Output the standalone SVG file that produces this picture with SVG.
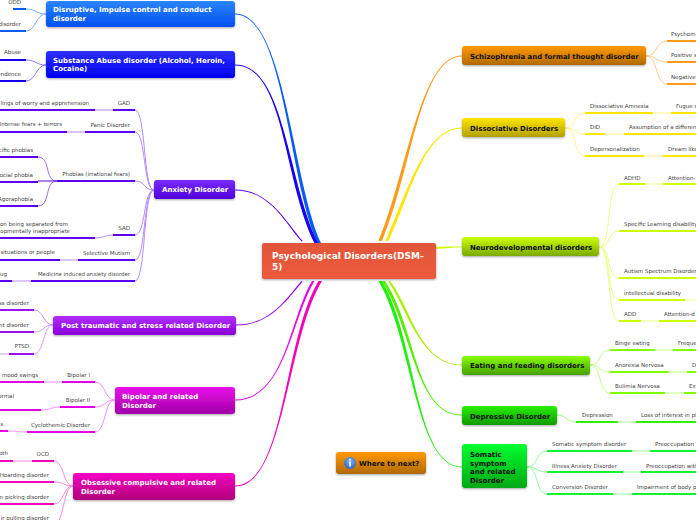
<svg xmlns="http://www.w3.org/2000/svg" width="696" height="520" viewBox="0 0 696 520">
<defs>
<style>
text{font-family:"DejaVu Sans",Verdana,sans-serif}
.t{font-size:5.5px;fill:#444}
.e{text-anchor:end}
.n{font-size:7px;font-weight:bold;fill:#fff}
.k{font-size:7px;font-weight:bold;fill:#111}
.b{filter:url(#sh)}
.c path,.l{fill:none}
.u{stroke-width:2;fill:none}
.blue{stroke:#0a5cf0}.ind{stroke:#1800f5}.vio{stroke:#5b00f0}.pur{stroke:#9a10f0}.mag{stroke:#e600e6}.pnk{stroke:#f500bb}
.org{stroke:#ff9a1a}.yel{stroke:#ffe600}.lim{stroke:#ccff00}.grn{stroke:#80ff00}.gr2{stroke:#33f000}.gr3{stroke:#10f530}
.lblue{stroke:#7fb0ff}.lind{stroke:#8d80ff}.lvio{stroke:#b48cff}.mvio{stroke:#9a66ff}.lpur{stroke:#d09cff}.lmag{stroke:#ff8cff}.lpnk{stroke:#ff88e0}
.lorg{stroke:#ffcc88}.lyel{stroke:#fff18a}.llim{stroke:#e9ff88}.lgrn{stroke:#c0ff88}.lgr2{stroke:#a0ff88}.lgr3{stroke:#90ff9c}
</style>
<filter id="sh" x="-5%" y="-10%" width="110%" height="130%"><feDropShadow dx="0" dy="1" stdDeviation="0.8" flood-color="#000" flood-opacity="0.35"/></filter>
<linearGradient id="g1" x1="0" y1="0" x2="0" y2="1"><stop offset="0" stop-color="#2b85ff"/><stop offset="1" stop-color="#0050f0"/></linearGradient>
<linearGradient id="g2" x1="0" y1="0" x2="0" y2="1"><stop offset="0" stop-color="#2f2fff"/><stop offset="1" stop-color="#0000f0"/></linearGradient>
<linearGradient id="g3" x1="0" y1="0" x2="0" y2="1"><stop offset="0" stop-color="#7a2bff"/><stop offset="1" stop-color="#5000d8"/></linearGradient>
<linearGradient id="g4" x1="0" y1="0" x2="0" y2="1"><stop offset="0" stop-color="#b030ff"/><stop offset="1" stop-color="#8a00d8"/></linearGradient>
<linearGradient id="g5" x1="0" y1="0" x2="0" y2="1"><stop offset="0" stop-color="#ea10ea"/><stop offset="1" stop-color="#a000a8"/></linearGradient>
<linearGradient id="g6" x1="0" y1="0" x2="0" y2="1"><stop offset="0" stop-color="#f500c5"/><stop offset="1" stop-color="#b00078"/></linearGradient>
<linearGradient id="g7" x1="0" y1="0" x2="0" y2="1"><stop offset="0" stop-color="#ff9a00"/><stop offset="1" stop-color="#b06a00"/></linearGradient>
<linearGradient id="g8" x1="0" y1="0" x2="0" y2="1"><stop offset="0" stop-color="#ffe600"/><stop offset="1" stop-color="#b3a000"/></linearGradient>
<linearGradient id="g9" x1="0" y1="0" x2="0" y2="1"><stop offset="0" stop-color="#ccff00"/><stop offset="1" stop-color="#7aaa00"/></linearGradient>
<linearGradient id="g10" x1="0" y1="0" x2="0" y2="1"><stop offset="0" stop-color="#88ff00"/><stop offset="1" stop-color="#44a000"/></linearGradient>
<linearGradient id="g11" x1="0" y1="0" x2="0" y2="1"><stop offset="0" stop-color="#2af000"/><stop offset="1" stop-color="#109a00"/></linearGradient>
<linearGradient id="g12" x1="0" y1="0" x2="0" y2="1"><stop offset="0" stop-color="#00ff30"/><stop offset="1" stop-color="#00a814"/></linearGradient>
<linearGradient id="g13" x1="0" y1="0" x2="0" y2="1"><stop offset="0" stop-color="#e0573a"/><stop offset="1" stop-color="#ee5a3c"/></linearGradient>
<linearGradient id="g14" x1="0" y1="0" x2="0" y2="1"><stop offset="0" stop-color="#ff9a00"/><stop offset="1" stop-color="#b06a00"/></linearGradient>
<radialGradient id="gi" cx="0.5" cy="0.35" r="0.7"><stop offset="0" stop-color="#7fb0f0"/><stop offset="1" stop-color="#2860c8"/></radialGradient>
</defs>
<rect width="696" height="520" fill="#fff"/>
<g id="connectors">
<g>
<path d="M235 13.500C285 13.500 292 180 321 243L317.500 243C288 180 285 14.500 235 14.500Z" fill="#0a5cf0"/>
<path d="M235 64.500C285 64.500 287 180 318 243L314.500 243C283 180 285 65.500 235 65.500Z" fill="#1800f5"/>
<path d="M235 189.600C270 189.600 286 222 302.800 241L301.600 241.500C285 223 270 190.400 235 190.400Z" fill="#5b00f0"/>
<path d="M236 324.600C270 324.600 285 300 301.400 281L302.800 281.500C286 301 270 325.400 236 325.400Z" fill="#9a10f0"/>
<path d="M235 399.500C285 399.500 289 320 312 281L314.500 281C291 320 285 400.500 235 400.500Z" fill="#e600e6"/>
<path d="M235 485.500C285 485.500 283 340 318.500 281L322 281C286 340 285 486.500 235 486.500Z" fill="#f500bb"/>
<path d="M462 55.500C420 55.500 408 170 378.500 241L382 241C412 170 420 56.500 462 56.500Z" fill="#ff9a1a"/>
<path d="M462 127.500C425 127.500 408 190 385.500 241L388.500 241C412 190 425 128.500 462 128.500Z" fill="#ffe600"/>
<path d="M436 247C445 246.500 452 246.600 462 246.600L462 247.400C452 247.400 445 248 436 249Z" fill="#ccff00"/>
<path d="M462 364.600C420 364.600 412 310 390 281L388 281C408 310 420 365.400 462 365.400Z" fill="#a8f000"/>
<path d="M462 414.600C415 414.600 417 330 385 281L382 281C413 330 415 415.400 462 415.400Z" fill="#55ee00"/>
<path d="M462 466.600C415 466.600 417 340 382 281L378.500 281C413 340 415 467.400 462 467.400Z" fill="#22ee10"/>
</g>
<g stroke-width="1" fill="none">
<path class="lblue" d="M26 9C36 9 36 14 46 14M26 31C36 31 36 14 46 14"/>
<path class="lind" d="M26 60C36 60 36 65 46 65M26 81C36 81 36 65 46 65"/>
<path class="lvio" d="M135 110C146 110 143 190 154 190M135 132C146 132 143 190 154 190M135 181C146 181 143 190 154 190M135 235C146 235 143 190 154 190M135 260C146 260 143 190 154 190M135 281C146 281 143 190 154 190"/>
<path class="lvio" d="M95 110H113M67 132H85M95 238C104 238 104 235 113 235M60 260H78M12 281C22 281 21 281 31 281"/>
<path class="mvio" d="M38 157C51 157 44 181 57 181M38 206C51 206 44 181 57 181"/>
<path class="vio" d="M38 181H57"/>
<path class="lpur" d="M34 310C44 310 43 325 53 325M34 332C44 332 43 325 53 325M34 354C44 354 43 325 53 325M0 354H9"/>
<path class="lmag" d="M95 382C106 382 104 400 115 400M95 407C106 407 104 400 115 400M95 432C106 432 104 400 115 400M44 382H62M41 410C50 410 51 407 60 407M8 431C17 431 18 432 27 432"/>
<path class="lpnk" d="M54 461C64 461 63 486 73 486M54 482C64 482 63 486 73 486M54 504C64 504 63 486 73 486M54 525C64 525 63 486 73 486M13 461H32"/>
<path class="lorg" d="M646 56C658 56 655 41 667 41M646 56C658 56 655 62 667 62M646 56C658 56 655 84 667 84"/>
<path class="lyel" d="M565 128C577 128 573 113 585 113M565 128C577 128 573 134 585 134M565 128C577 128 573 156 585 156M653 113H671M605 134H624M644 156H663"/>
<path class="llim" d="M599 247C612 247 606 184 619 184M599 247C612 247 606 231 619 231M599 247C612 247 606 278 619 278M599 247C612 247 606 300 619 300M599 247C612 247 606 321 619 321M645 184H663M685 300H696M641 321H659"/>
<path class="lgrn" d="M590 365C602 365 598 350 610 350M590 365C602 365 598 372 610 372M590 365C602 365 598 393 610 393M655 350H673M669 372H687M665 393H684"/>
<path class="lgr2" d="M557 415C567 415 566 422 576 422M618 422H636"/>
<path class="lgr3" d="M527 467C539 467 535 451 547 451M527 467C539 467 535 472 547 472M527 467C539 467 535 494 547 494M632 451H650M623 472H641M613 494H632"/>
</g>
</g>
<g id="center"><rect class="b" x="262" y="243" width="174" height="36" rx="2" fill="url(#g13)"/><text x="272" y="259" class="n" style="font-size:9px">Psychological Disorders(DSM-</text><text x="272" y="270" class="n" style="font-size:9px">5)</text></g>
<g id="next"><rect class="b" x="336" y="452" width="90" height="22" rx="3" fill="url(#g14)"/><circle cx="350" cy="463" r="6" fill="url(#gi)"/><circle cx="350" cy="459.800" r="1" fill="#fff"/><rect x="349.200" y="461.500" width="1.600" height="5" fill="#fff"/><text x="359" y="466" class="k">Where to next?</text></g>

<g id="disruptive"><rect class="b" x="46" y="1" width="189" height="26" rx="3" fill="url(#g1)"/><text x="53" y="12" class="n">Disruptive, Impulse control and conduct</text><text x="53" y="21" class="n">disorder</text>
<text x="21" y="4" class="t e">ODD</text><path class="u blue" d="M13 9H26"/><text x="21" y="26" class="t e">disorder</text><path class="u blue" d="M0 31H26"/></g>
<g id="substance"><rect class="b" x="46" y="51" width="189" height="27" rx="3" fill="url(#g2)"/><text x="53" y="63" class="n">Substance Abuse disorder (Alcohol, Heroin,</text><text x="53" y="71" class="n">Cocaine)</text>
<text x="21" y="54" class="t e">Abuse</text><path class="u ind" d="M0 60H26"/><text x="21" y="76" class="t e">endence</text><path class="u ind" d="M0 81H26"/></g>
<g id="anxiety"><rect class="b" x="154" y="180" width="81" height="19" rx="3" fill="url(#g3)"/><text x="162" y="192" class="n">Anxiety Disorder</text>
<text x="130" y="105" class="t e">GAD</text><path class="u vio" d="M113 110H135"/><text x="89" y="105" class="t e">lings of worry and apprehension</text><path class="u vio" d="M0 110H95"/>
<text x="130" y="127" class="t e">Panic Disorder</text><path class="u vio" d="M85 132H135"/><text x="62" y="126" class="t e">Intense fears + terrors</text><path class="u vio" d="M0 132H67"/>
<text x="130" y="176" class="t e">Phobias (irrational fears)</text><path class="u vio" d="M57 181H135"/>
<text x="33" y="152" class="t e">cific phobias</text><path class="u vio" d="M0 157H38"/><text x="33" y="177" class="t e">social phobia</text><path class="u vio" d="M0 182H38"/><text x="33" y="201" class="t e">Agoraphobia</text><path class="u vio" d="M0 206H38"/>
<text x="130" y="230" class="t e">SAD</text><path class="u vio" d="M113 235H135"/><text x="68" y="226" class="t e">on being separated from</text><text x="70" y="233" class="t e">opmentally inappropriate</text><path class="u vio" d="M0 238H95"/>
<text x="130" y="255" class="t e">Selective Mutism</text><path class="u vio" d="M78 260H135"/><text x="55" y="254" class="t e">situations or people</text><path class="u vio" d="M0 260H60"/>
<text x="130" y="276" class="t e" style="font-size:5.35px">Medicine induced anxiety disorder</text><path class="u vio" d="M31 281H135"/><text x="7" y="276" class="t e">rug</text><path class="u vio" d="M0 281H12"/></g>
<g id="ptsd"><rect class="b" x="53" y="316" width="183" height="19" rx="3" fill="url(#g4)"/><text x="61" y="328" class="n">Post traumatic and stress related Disorder</text>
<text x="29" y="305" class="t e">ss disorder</text><path class="u pur" d="M0 310H34"/><text x="29" y="327" class="t e">nt disorder</text><path class="u pur" d="M0 332H34"/><text x="29" y="348" class="t e">PTSD</text><path class="u pur" d="M9 354H34"/></g>
<g id="bipolar"><rect class="b" x="115" y="387" width="120" height="27" rx="3" fill="url(#g5)"/><text x="122" y="399" class="n">Bipolar and related</text><text x="122" y="408" class="n">Disorder</text>
<text x="90" y="377" class="t e">Bipolar I</text><path class="u mag" d="M62 382H95"/><text x="38" y="377" class="t e">mood swings</text><path class="u mag" d="M0 382H44"/>
<text x="90" y="402" class="t e">Bipolar II</text><path class="u mag" d="M60 407H95"/><text x="14" y="398" class="t e">ormal</text><path class="u mag" d="M0 410H41"/>
<text x="90" y="427" class="t e">Cyclothemic Disorder</text><path class="u mag" d="M27 432H95"/><text x="3" y="426" class="t e">s</text><path class="u mag" d="M0 431H8"/></g>
<g id="ocd"><rect class="b" x="73" y="473" width="162" height="27" rx="3" fill="url(#g6)"/><text x="81" y="485" class="n">Obsessive compulsive and related</text><text x="81" y="494" class="n">Disorder</text>
<text x="49" y="456" class="t e">OCD</text><path class="u pnk" d="M32 461H54"/><text x="8" y="455" class="t e">oth</text><path class="u pnk" d="M0 461H13"/>
<text x="49" y="477" class="t e">Hoarding disorder</text><path class="u pnk" d="M0 482H54"/><text x="49" y="499" class="t e">n picking disorder</text><path class="u pnk" d="M0 504H54"/><text x="49" y="520" class="t e">ir pulling disorder</text></g>

<g id="schizo"><rect class="b" x="462" y="46" width="184" height="19" rx="3" fill="url(#g7)"/><text x="470" y="59" class="k" style="font-size:6.93px">Schizophrenia and formal thought disorder</text>
<text x="671" y="36" class="t">Psychom</text><path class="u org" d="M667 41H696"/><text x="671" y="57" class="t">Positive s</text><path class="u org" d="M667 62H696"/><text x="671" y="79" class="t">Negative</text><path class="u org" d="M667 84H696"/></g>
<g id="dissociative"><rect class="b" x="462" y="118" width="103" height="19" rx="3" fill="url(#g8)"/><text x="470" y="131" class="k">Dissociative Disorders</text>
<text x="590" y="108" class="t">Dissociative Amnesia</text><path class="u yel" d="M585 113H653"/><text x="676" y="108" class="t">Fugue s</text><path class="u yel" d="M671 113H696"/>
<text x="590" y="129" class="t">DID</text><path class="u yel" d="M585 134H605"/><text x="629" y="129" class="t">Assumption of a different</text><path class="u yel" d="M624 134H696"/>
<text x="590" y="151" class="t">Depersonalization</text><path class="u yel" d="M585 156H644"/><text x="668" y="151" class="t">Dream like</text><path class="u yel" d="M663 156H696"/></g>
<g id="neuro"><rect class="b" x="462" y="237" width="137" height="19" rx="3" fill="url(#g9)"/><text x="470" y="250" class="k">Neurodevelopmental disorders</text>
<text x="624" y="180" class="t">ADHD</text><path class="u lim" d="M619 184H645"/><text x="668" y="180" class="t">Attention-</text><path class="u lim" d="M663 184H696"/>
<text x="624" y="226" class="t">Specific Learning disability</text><path class="u lim" d="M619 231H696"/><text x="624" y="273" class="t">Autism Spectrum Disorder</text><path class="u lim" d="M619 278H696"/>
<text x="624" y="295" class="t">intellectual disability</text><path class="u lim" d="M619 300H685"/><text x="624" y="316" class="t">ADD</text><path class="u lim" d="M619 321H641"/><text x="664" y="316" class="t">Attention-d</text><path class="u lim" d="M659 321H696"/></g>
<g id="eating"><rect class="b" x="462" y="356" width="128" height="19" rx="3" fill="url(#g10)"/><text x="470" y="368" class="k">Eating and feeding disorders</text>
<text x="615" y="345" class="t">Binge eating</text><path class="u grn" d="M610 350H655"/><text x="678" y="345" class="t">Freque</text><path class="u grn" d="M673 350H696"/>
<text x="615" y="367" class="t">Anorexia Nervosa</text><path class="u grn" d="M610 372H669"/><text x="692" y="367" class="t">D</text><path class="u grn" d="M687 372H696"/>
<text x="615" y="388" class="t">Bulimia Nervosa</text><path class="u grn" d="M610 393H665"/><text x="689" y="388" class="t">Ex</text><path class="u grn" d="M684 393H696"/></g>
<g id="depressive"><rect class="b" x="462" y="406" width="95" height="19" rx="3" fill="url(#g11)"/><text x="470" y="419" class="k">Depressive Disorder</text>
<text x="582" y="417" class="t">Depression</text><path class="u gr2" d="M576 422H618"/><text x="641" y="417" class="t">Loss of interest in pl</text><path class="u gr2" d="M636 422H696"/></g>
<g id="somatic"><rect class="b" x="462" y="444" width="65" height="44" rx="3" fill="url(#g12)"/><text x="470" y="457" class="k">Somatic</text><text x="470" y="465.500" class="k">symptom</text><text x="470" y="474" class="k">and related</text><text x="470" y="482.500" class="k">Disorder</text>
<text x="552" y="446" class="t">Somatic symptom disorder</text><path class="u gr3" d="M547 451H632"/><text x="655" y="446" class="t">Preoccupation</text><path class="u gr3" d="M650 451H696"/>
<text x="552" y="468" class="t">Illness Anxiety Disorder</text><path class="u gr3" d="M547 472H623"/><text x="646" y="468" class="t">Preoccupation with</text><path class="u gr3" d="M641 472H696"/>
<text x="552" y="489" class="t">Conversion Disorder</text><path class="u gr3" d="M547 494H613"/><text x="637" y="489" class="t">Impairment of body p</text><path class="u gr3" d="M632 494H696"/></g>
</svg>
